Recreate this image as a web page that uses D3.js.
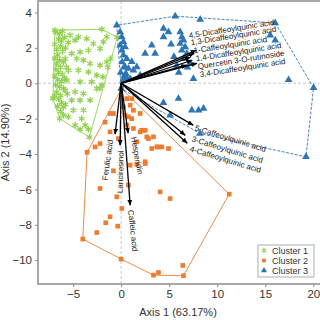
<!DOCTYPE html>
<html><head><meta charset="utf-8">
<script src="https://cdn.jsdelivr.net/npm/d3@7"></script>
<style>html,body{margin:0;padding:0;background:#fff}svg{display:block}</style>
</head><body><svg id="c" width="320" height="320"></svg>
<script>
// ---------- data ----------
const cluster1 = [[-6.9,3.0],[-2.0,3.05],[-0.4,2.6],[-3.3,-3.05],[-6.4,-2.0],[-7.1,-0.85],
[-5.31,2.71],[-4.44,2.62],[-4.79,2.43],[-3.58,2.52],[-2.88,2.24],[-1.84,2.34],[-1.49,2.62],[-2.19,1.96],[-3.40,1.86],[-4.27,1.77],[-5.14,1.68],[-5.83,1.39],[-4.62,1.39],[-3.92,1.30],[-3.23,1.11],[-2.19,1.02],[-1.49,1.21],[-1.1,1.39],[-1.4,0.9],[-5.49,0.73],[-4.44,0.73],[-3.40,0.64],[-2.53,0.45],[-1.9,0.36],[-5.66,0.17],[-4.27,0.08],[-3.06,0.08],[-2.53,-0.30],[-2.2,-0.3],[-2.0,-0.1],
[-5.83,-0.40],[-4.79,-0.49],[-3.92,-0.58],[-5.14,-0.96],[-4.27,-0.96],[-3.23,-0.96],[-6.01,-1.34],[-4.97,-1.53],[-3.92,-1.53],[-5.49,-1.90],[-4.10,-2.00],[-4.79,-2.37],[-3.75,-2.37],[-3.40,-2.6],[-4.27,-2.6],
[-6.8,2.9],[-6.5,2.5],[-6.9,2.2],[-6.3,2.1],[-6.7,1.9],[-6.1,1.8],[-6.6,1.6],[-6.9,1.4],[-6.4,1.3],[-6.0,1.2],[-6.7,1.1],[-6.3,0.9],[-6.8,0.8],[-6.5,0.6],[-6.1,0.5],[-6.9,0.4],[-6.6,0.2],[-6.2,0.1],[-6.8,-0.1],[-6.4,-0.2],[-6.0,-0.3],[-6.7,-0.5],[-6.3,-0.7],[-6.5,-0.9],[-6.9,-0.7],[-6.2,-1.1],[-6.6,-1.3],[-6.3,-1.6],[-6.0,-1.8],[-5.8,2.0],[-5.9,2.6],[-6.2,2.4],[-5.7,0.9],[-5.9,0.3],[-5.6,-0.6],[-5.8,-1.2],[-6.4,2.8],[-6.1,2.95],[-5.5,2.3]];

const cluster2 = [[0.05,-0.3],[-3.54,-3.9],[-3.99,-8.81],[0,-9.94],[3.37,-10.85],[6.49,-10.88],[11.25,-6.27],
[0.59,-0.87],[1.11,-0.87],[0.24,-1.34],[0.94,-1.24],[1.28,-1.53],[0.42,-1.81],[1.11,-2.0],[0.59,-2.37],[1.28,-2.56],[1.98,-2.75],[2.33,-2.66],[2.67,-3.03],[3.37,-3.03],[3.72,-3.6],[-2.19,-3.41],[-2.71,-3.6],[-0.8,-1.71],[-1.15,-2.75],[-0.28,-3.13],[1.98,-1.71],[0.76,-1.9],[-1.15,-1.71],[-1.67,-2.2],
[2.15,-2.66],[2.5,-2.66],[2.85,-3.13],[1.63,-3.31],[3.19,-3.69],[3.89,-3.6],[4.93,-3.69],[2.5,-4.44],[0.94,-4.63],[-2.19,-5.95],[-0.45,-6.42],[4.06,-6.14],[5.1,-6.52],[0.07,-7.08],[-1.15,-7.55],[-1.6,-7.89],[-0.35,-8.08],[-2.53,-8.44],[3.89,-10.70],[-0.8,-4.95],[0.76,-5.76],[1.63,-4.58],[2.5,-4.54],[6.42,-10.3],[4.24,-3.6]];

const cluster3 = [[-0.45,3.28],[5.63,3.79],[8.23,3.6],[16.04,3.41],[20.03,-0.25],[19.24,-4.16],[8.2,-2.84],[0,-0.3],
[-0.1,2.9],[0.07,2.62],[0.24,2.34],[-0.1,2.15],[0.42,2.05],[0.07,1.86],[0.24,1.58],[0.59,1.39],[1.11,1.21],[1.63,0.92],[0.42,0.92],[0.76,0.83],[1.28,0.73],[0.94,0.26],[1.98,0.45],[2.5,1.68],[3.19,2.15],[3.54,1.68],[4.41,3.09],[4.93,2.9],[4.41,2.62],[6.15,2.9],[6.32,2.62],[6.49,2.43],[6.15,2.24],[6.67,2.05],[6.32,1.86],[6.84,1.68],[6.49,1.39],[7.19,1.11],[7.53,0.26],[15.52,2.71],[16.04,2.43],[17.43,0.19],[5.97,-0.87],[7.36,-1.53],[8.06,-1.53],[8.58,-1.43],[4.41,-1.1],[5.1,-1.81],[0.3,0.4],[0.6,0.3],[0.2,0.15],[0.5,0.55],[0.1,1.2],[0.3,0.9],[-0.05,0.6],[5.8,1.0],[6.0,0.6],[5.5,1.5],[5.2,2.2],[6.9,0.9]];

const loadingNames = ["4,5-Dicaffeoylquinic acid","1,3-Dicaffeoylquinic acid","1-Caffeoylquinic acid","1,4-Dicaffeoylquinic acid","Quercetin 3-O-rutinoside","3,4-Dicaffeoylquinic acid","5-Caffeoylquinic acid","3-Caffeoylquinic acid","4-Caffeoylquinic acid","Ferulic acid","Lariciresinol","Hesperidin","Caffeic acid"];
const loadingX = [7.8,7.6,7.2,7.4,7.9,6.8,7.5,6.67,6.88,-0.63,-0.1,0.73,0.94];
const loadingY = [1.86,1.69,1.47,1.30,1.13,1.02,-2.37,-2.94,-3.39,-2.88,-3.5,-2.82,-6.89];
const labelX = [7.08,7.29,7.6,7.81,8.02,8.23,7.6,7.29,7.08,-0.83,0.25,1.04,0.73];
const labelY = [2.54,2.15,1.69,1.24,0.79,0.34,-2.66,-3.28,-3.84,-3.22,-3.8,-3.05,-7.18];

const xTicks = [-5,0,5,10,15,20];
const yTicks = [4,2,0,-2,-4,-6,-8,-10];
const legendLabels = ["Cluster 1","Cluster 2","Cluster 3"];
const xTitle = "Axis 1 (63.17%)";
const yTitle = "Axis 2 (14.90%)";

// ---------- styles ----------
const labelAngle = [-9,-9,-9,-9,-9,-9,17,17,17,-82,-89,80,84];
const labelAnchor = ["start","start","start","start","start","start","start","start","start","end","end","start","start"];
const colors = ["#92D050","#ED7D31","#2E75B6"];
const font = "Liberation Sans, Arial, sans-serif";

const svg = d3.select("#c");
const x = d3.scaleLinear().domain([-8.65,20.7]).range([38,320]);
const y = d3.scaleLinear().domain([4.65,-11.35]).range([1,284]);

svg.append("defs").append("marker").attr("id","ah")
  .attr("viewBox","0 0 10 10").attr("refX",9).attr("refY",5)
  .attr("markerWidth",6).attr("markerHeight",6).attr("markerUnits","userSpaceOnUse")
  .attr("orient","auto")
  .append("path").attr("d","M0,1 L10,5 L0,9 z").attr("fill","#000");

// reference dashed lines
svg.append("line").attr("x1",x(0)).attr("x2",x(0)).attr("y1",y.range()[0]).attr("y2",y.range()[1])
  .attr("stroke","#bbb").attr("stroke-width",0.8).attr("stroke-dasharray","3,2");
svg.append("line").attr("y1",y(0)).attr("y2",y(0)).attr("x1",x.range()[0]).attr("x2",x.range()[1])
  .attr("stroke","#bbb").attr("stroke-width",0.8).attr("stroke-dasharray","3,2");

// hulls
const clusters = [cluster1, cluster2, cluster3];
clusters.forEach((c,i)=>{
  const pts = c.map(d=>[x(d[0]),y(d[1])]);
  const hull = d3.polygonHull(pts);
  svg.append("path").attr("d","M"+hull.join("L")+"Z")
    .attr("fill","none").attr("stroke",colors[i]).attr("stroke-width",0.9)
    .attr("stroke-dasharray", i===2 ? "3,1.5" : null);
});

// points
const symGreen = d3.symbol(d3.symbolAsterisk, 30);
svg.append("g").selectAll("path").data(cluster1).join("path")
  .attr("d",symGreen).attr("transform",d=>`translate(${x(d[0])},${y(d[1])})`)
  .attr("fill","none").attr("stroke",colors[0]).attr("stroke-width",1.3);
const symSq = d3.symbol(d3.symbolSquare, 22);
svg.append("g").selectAll("path").data(cluster2).join("path")
  .attr("d",symSq).attr("transform",d=>`translate(${x(d[0])},${y(d[1])})`)
  .attr("fill",colors[1]);
const symTri = d3.symbol(d3.symbolTriangle, 26);
svg.append("g").selectAll("path").data(cluster3).join("path")
  .attr("d",symTri).attr("transform",d=>`translate(${x(d[0])},${y(d[1])})`)
  .attr("fill",colors[2]);

// arrows
const ag = svg.append("g");
loadingNames.forEach((n,i)=>{
  ag.append("line").attr("x1",x(0)).attr("y1",y(0)).attr("x2",x(loadingX[i])).attr("y2",y(loadingY[i]))
    .attr("stroke","#000").attr("stroke-width",1.3).attr("marker-end","url(#ah)");
});
loadingNames.forEach((n,i)=>{
  ag.append("text").attr("transform",`translate(${x(labelX[i])},${y(labelY[i])}) rotate(${labelAngle[i]})`)
    .attr("text-anchor",labelAnchor[i]).attr("font-family",font).attr("font-size",8).attr("fill","#222")
    .text(n);
});

// frame
svg.append("rect").attr("x",x.range()[0]).attr("y",y.range()[0])
  .attr("width",x.range()[1]-x.range()[0]+5).attr("height",y.range()[1]-y.range()[0])
  .attr("fill","none").attr("stroke","#8c8c8c").attr("stroke-width",1.5);

const fmt = d => (d<0 ? "\u2212"+Math.abs(d) : String(d));
const xa = svg.append("g").attr("transform",`translate(0,${y.range()[1]})`)
  .call(d3.axisBottom(x).tickValues(xTicks).tickFormat(fmt).tickSize(3).tickPadding(3).tickSizeOuter(0));
const ya = svg.append("g").attr("transform",`translate(${x.range()[0]},0)`)
  .call(d3.axisLeft(y).tickValues(yTicks).tickFormat(fmt).tickSize(3).tickPadding(3).tickSizeOuter(0));
[xa,ya].forEach(a=>{
  a.select(".domain").remove();
  a.selectAll(".tick line").attr("stroke","#8c8c8c");
  a.selectAll(".tick text").attr("font-family",font).attr("font-size",11.5).attr("fill","#333");
});

svg.append("text").attr("x",(x.range()[0]+318)/2).attr("y",316).attr("text-anchor","middle")
  .attr("font-family",font).attr("font-size",11).attr("fill","#333").text(xTitle);
svg.append("text").attr("transform",`translate(9,${(y.range()[0]+y.range()[1])/2}) rotate(-90)`)
  .attr("text-anchor","middle").attr("font-family",font).attr("font-size",11).attr("fill","#333").text(yTitle);

// legend
const lg = svg.append("g");
lg.append("rect").attr("x",258).attr("y",245).attr("width",56).attr("height",32)
  .attr("fill","#fff").attr("stroke","#999").attr("stroke-width",0.8);
const legSyms = [symGreen, symSq, symTri];
legendLabels.forEach((l,i)=>{
  const cy = 250.5 + i*10;
  const p = lg.append("path").attr("d",legSyms[i]).attr("transform",`translate(264,${cy}) scale(0.8)`);
  if(i===0) p.attr("fill","none").attr("stroke",colors[0]).attr("stroke-width",1.3);
  else p.attr("fill",colors[i]);
  lg.append("text").attr("x",272).attr("y",cy+3.2).attr("font-family",font).attr("font-size",9)
    .attr("fill","#333").text(l);
});
</script></body></html>
